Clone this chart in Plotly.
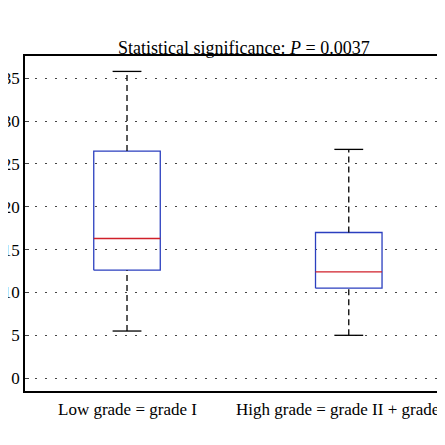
import plotly.graph_objects as go

groups = ["Low grade = grade I", "High grade = grade II + grade III"]
pos = [1, 2]
lower = [5.5, 5.0]
q1 = [12.6, 10.5]
median = [16.3, 12.4]
q3 = [26.5, 17.0]
upper = [35.8, 26.7]
yticks = [0, 5, 10, 15, 20, 25, 30, 35]

fig = go.Figure()
bw, cw = 0.15, 0.065
for i in range(2):
    x = pos[i]
    fig.add_trace(go.Scatter(x=[x-bw, x+bw, x+bw, x-bw, x-bw], y=[q1[i], q1[i], q3[i], q3[i], q1[i]],
                             mode="lines", line=dict(color="#2b3fbf", width=1.3), showlegend=False))
    fig.add_trace(go.Scatter(x=[x-bw, x+bw], y=[median[i]]*2, mode="lines",
                             line=dict(color="#d0202a", width=1.3), showlegend=False))
    for a, b in [(q3[i], upper[i]), (lower[i], q1[i])]:
        fig.add_trace(go.Scatter(x=[x, x], y=[a, b], mode="lines",
                                 line=dict(color="black", width=1.3, dash="6px,4px"), showlegend=False))
    for v in [upper[i], lower[i]]:
        fig.add_trace(go.Scatter(x=[x-cw, x+cw], y=[v, v], mode="lines",
                                 line=dict(color="black", width=1.3), showlegend=False))
    fig.add_annotation(x=x, xref="x", y=-0.02, yref="paper", yanchor="top", text=groups[i],
                       showarrow=False, font=dict(size=17))

fig.update_layout(
    width=445, height=445, margin=dict(l=17, r=0, t=48, b=62),
    plot_bgcolor="white", paper_bgcolor="white",
    font=dict(family="Liberation Serif", size=17, color="black"),
    title=dict(text="Statistical significance: <i>P</i> = 0.0037", x=0.53, xanchor="center", y=0.925, font=dict(size=18)),
)
fig.update_xaxes(range=[0.54, 2.47], showticklabels=False, showgrid=False, zeroline=False,
                 showline=True, linecolor="black", linewidth=1.5, mirror=True, ticks="", automargin=False)
fig.update_yaxes(range=[-1.5, 37.6], tickvals=yticks, showgrid=True, gridcolor="#444", griddash="2px,8px",
                 gridwidth=1.2, zeroline=False, showline=True, linecolor="black", linewidth=1.5, mirror=True,
                 ticks="inside", ticklen=4, automargin=False)
fig.write_html("out.html")
